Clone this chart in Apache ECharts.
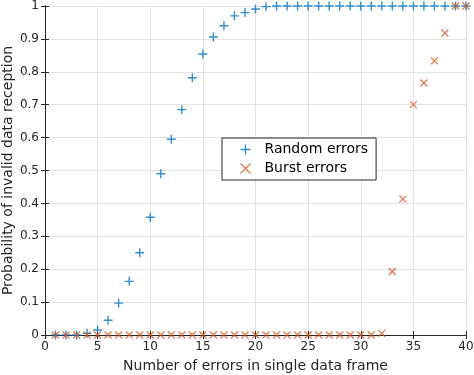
<!DOCTYPE html>
<html><head><meta charset="utf-8">
<script src="https://cdn.jsdelivr.net/npm/echarts@6/dist/echarts.min.js"></script>
<style>html,body{margin:0;padding:0;background:#fff}#c{width:474px;height:375px}</style>
</head><body><div id="c"></div>
<script>
const errorCounts = [1,2,3,4,5,6,7,8,9,10,11,12,13,14,15,16,17,18,19,20,21,22,23,24,25,26,27,28,29,30,31,32,33,34,35,36,37,38,39,40];
const randomErrors = [0,0,0,0.005,0.015,0.045,0.097,0.163,0.25,0.358,0.49,0.595,0.685,0.782,0.854,0.906,0.94,0.97,0.98,0.991,0.998,1,1,1,1,1,1,1,1,1,1,1,1,1,1,1,1,1,1,1];
const burstErrors = [0,0,0,0,0,0,0,0,0,0,0,0,0,0,0,0,0,0,0,0,0,0,0,0,0,0,0,0,0,0,0,0.005,0.193,0.413,0.70,0.766,0.833,0.918,1,1];
const xTicks = [0,5,10,15,20,25,30,35,40];
const yTicks = [0,0.1,0.2,0.3,0.4,0.5,0.6,0.7,0.8,0.9,1];

const FONT = 'DejaVu Sans';
const axisCol = '#262626';
const plus = 'path://M0,-1L0,1M-1,0L1,0';
const cross = 'path://M-1,-1L1,1M-1,1L1,-1';

const chart = echarts.init(document.getElementById('c'), null, {renderer:'canvas'});
const baseX = {type:'value', min:0, max:40, interval:5,
  axisLine:{show:true,lineStyle:{color:axisCol,width:1}},
  axisTick:{show:true,inside:true,length:4,lineStyle:{color:axisCol}},
  splitLine:{show:false}};
const baseY = {type:'value', min:0, max:1, interval:0.1,
  axisLine:{show:true,lineStyle:{color:axisCol,width:1}},
  axisTick:{show:true,inside:true,length:4,lineStyle:{color:axisCol}},
  splitLine:{show:false}};
chart.setOption({
  animation:false,
  backgroundColor:'#fff',
  grid:{left:45,right:8,top:6,bottom:40,containLabel:false,outerBoundsMode:'none'},
  legend:{
    show:true, left:222, top:138, orient:'vertical',
    padding:[4,8,4,16], itemGap:4, itemWidth:14, itemHeight:10,
    backgroundColor:'#fff', borderColor:'#262626', borderWidth:1,
    textStyle:{fontFamily:FONT,fontSize:14,color:'#000',padding:[0,0,0,7]},
    data:[{name:'Random errors',icon:plus,itemStyle:{color:'none',borderColor:'#0072BD',borderWidth:1.4}},
          {name:'Burst errors',icon:cross,itemStyle:{color:'none',borderColor:'#D95319',borderWidth:1.2}}]
  },
  xAxis:[
    Object.assign({}, baseX, {position:'bottom',
      name:'Number of errors in single data frame', nameLocation:'middle', nameGap:24,
      nameMoveOverlap:false,
      nameTextStyle:{fontFamily:FONT,fontSize:14,color:'#262626'},
      axisLabel:{show:true,margin:6,fontFamily:FONT,fontSize:12,color:'#262626',
        formatter:v=>xTicks.includes(v)?String(v):''},
      splitLine:{show:true,lineStyle:{color:'#e3e3e3',width:1}}}),
    Object.assign({}, baseX, {position:'top', axisLabel:{show:false}})
  ],
  yAxis:[
    Object.assign({}, baseY, {position:'left',
      name:'Probability of invalid data reception', nameLocation:'middle', nameGap:30,
      nameMoveOverlap:false,
      nameTextStyle:{fontFamily:FONT,fontSize:14,color:'#262626'},
      axisLabel:{show:true,margin:6,fontFamily:FONT,fontSize:12,color:'#262626',
        formatter:v=>{const t=yTicks.find(y=>Math.abs(y-v)<1e-9);return t===undefined?'':String(t);}},
      splitLine:{show:true,lineStyle:{color:'#e3e3e3',width:1}}}),
    Object.assign({}, baseY, {position:'right', axisLabel:{show:false}})
  ],
  series:[
    {name:'Random errors', type:'scatter', xAxisIndex:0, yAxisIndex:0,
     symbol:plus, symbolSize:9,
     itemStyle:{color:'none',borderColor:'#0072BD',borderWidth:1.4},
     data:errorCounts.map((x,i)=>[x,randomErrors[i]]), clip:false, z:3},
    {name:'Burst errors', type:'scatter', xAxisIndex:0, yAxisIndex:0,
     symbol:cross, symbolSize:7,
     itemStyle:{color:'none',borderColor:'#D95319',borderWidth:1.2},
     data:errorCounts.map((x,i)=>[x,burstErrors[i]]), clip:false, z:4}
  ]
});
</script></body></html>
